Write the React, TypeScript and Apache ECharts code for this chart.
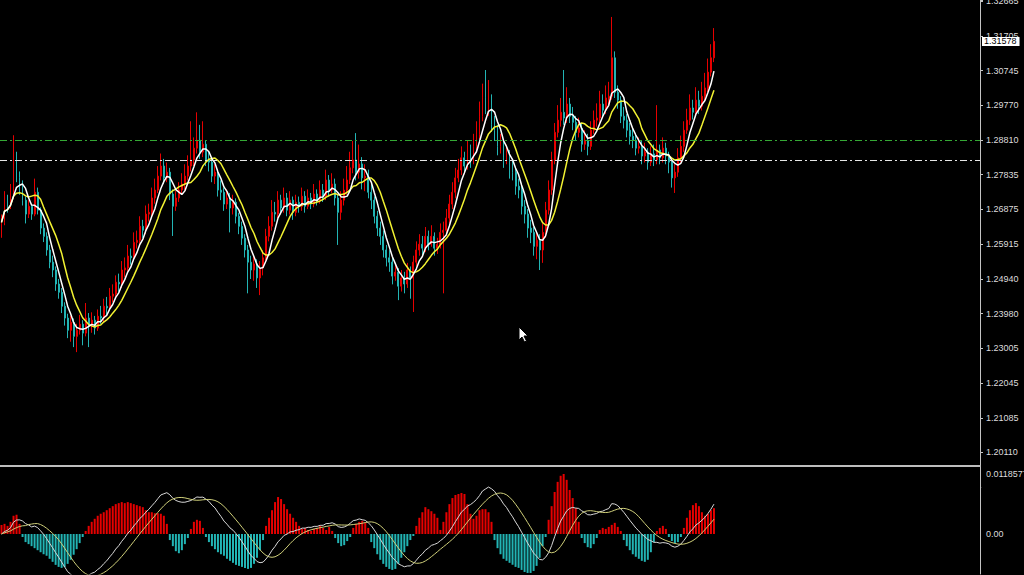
import React, { useEffect, useRef } from "react";
import * as echarts from "echarts";

// ---------- data ----------
const FIRST_OPEN = 1.264;

const CLOSES = [
  1.2653, 1.2715, 1.2698, 1.2737, 1.2827, 1.2777, 1.2743, 1.2715, 1.2676, 1.2698,
  1.2676, 1.2737, 1.2687, 1.2637, 1.2614, 1.2576, 1.2542, 1.252, 1.2481, 1.2458,
  1.2419, 1.2386, 1.2352, 1.2374, 1.2335, 1.2352, 1.2369, 1.2344, 1.2386, 1.2363,
  1.238, 1.2358, 1.2391, 1.2386, 1.2419, 1.2414, 1.2447, 1.2453, 1.2486, 1.2481,
  1.252, 1.2526, 1.2559, 1.2554, 1.2597, 1.2603, 1.2642, 1.2631, 1.2676, 1.2681,
  1.2721, 1.2743, 1.2782, 1.281, 1.2777, 1.2793, 1.2732, 1.2698, 1.2721, 1.2743,
  1.276, 1.2782, 1.281, 1.2827, 1.286, 1.2882, 1.2849, 1.2871, 1.2827, 1.2821,
  1.2782, 1.2793, 1.2743, 1.2737, 1.2704, 1.2721, 1.2693, 1.2709, 1.267, 1.2642,
  1.2609, 1.2576, 1.2542, 1.252, 1.2537, 1.2498, 1.2526, 1.2554, 1.2614, 1.2642,
  1.2681, 1.2676, 1.2715, 1.2693, 1.2721, 1.2687, 1.2715, 1.2681, 1.2709, 1.2698,
  1.2726, 1.2698, 1.2721, 1.2704, 1.2732, 1.2715, 1.2743, 1.2726, 1.2771, 1.2743,
  1.276, 1.2721, 1.2681, 1.2715, 1.2743, 1.2771, 1.2805, 1.2827, 1.2793, 1.2816,
  1.2777, 1.2782, 1.2737, 1.2715, 1.267, 1.2637, 1.2614, 1.2576, 1.2554, 1.2542,
  1.2503, 1.2514, 1.2475, 1.2498, 1.2481, 1.252, 1.2498, 1.2542, 1.2576, 1.2592,
  1.2581, 1.2614, 1.2592, 1.2614, 1.2581, 1.2592, 1.2625, 1.2631, 1.2665, 1.2704,
  1.2737, 1.2777, 1.2799, 1.2833, 1.281, 1.2849, 1.2827, 1.2865, 1.2899, 1.2949,
  1.3, 1.2972, 1.2994, 1.2927, 1.291, 1.2865, 1.2871, 1.2833, 1.2844, 1.2799,
  1.2793, 1.2754, 1.2743, 1.2698, 1.2676, 1.2637, 1.2625, 1.2586, 1.2603, 1.2576,
  1.2625, 1.2687, 1.2743, 1.2827, 1.2904, 1.2938, 1.296, 1.2944, 1.2983, 1.2949,
  1.2932, 1.2904, 1.2916, 1.2871, 1.2882, 1.2865, 1.291, 1.2938, 1.2944, 1.2983,
  1.2966, 1.3, 1.3005, 1.3112, 1.3016, 1.2994, 1.2949, 1.2938, 1.291, 1.2893,
  1.2882, 1.286, 1.2865, 1.2838, 1.2849, 1.2821, 1.2844, 1.2827, 1.2855, 1.2833,
  1.286, 1.2838, 1.2821, 1.2777, 1.2793, 1.2833, 1.2865, 1.291, 1.2938, 1.2972,
  1.296, 1.2994, 1.2977, 1.3005, 1.3028, 1.3072, 1.3112, 1.31578,
];

const HIGHS = [
  1.2675, 1.274, 1.273, 1.276, 1.2896, 1.285, 1.2795, 1.277, 1.2725, 1.2715,
  1.2705, 1.2775, 1.275, 1.2695, 1.265, 1.2625, 1.259, 1.256, 1.253, 1.2495,
  1.247, 1.243, 1.2398, 1.2392, 1.2385, 1.237, 1.2395, 1.238, 1.2428, 1.24,
  1.2402, 1.2392, 1.241, 1.242, 1.244, 1.2445, 1.247, 1.248, 1.2505, 1.251,
  1.2545, 1.2555, 1.259, 1.258, 1.2625, 1.263, 1.267, 1.266, 1.27, 1.2705,
  1.275, 1.2775, 1.281, 1.2845, 1.283, 1.282, 1.2805, 1.2745, 1.274, 1.2765,
  1.279, 1.2815, 1.284, 1.2935, 1.289, 1.296, 1.2925, 1.2935, 1.288, 1.285,
  1.283, 1.2815, 1.28, 1.277, 1.275, 1.2745, 1.2735, 1.273, 1.272, 1.268,
  1.2655, 1.262, 1.259, 1.256, 1.256, 1.255, 1.2545, 1.2575, 1.2635, 1.267,
  1.2715, 1.271, 1.274, 1.273, 1.275, 1.2735, 1.274, 1.2725, 1.273, 1.2725,
  1.275, 1.274, 1.2745, 1.2735, 1.276, 1.2745, 1.277, 1.276, 1.28, 1.2785,
  1.279, 1.2775, 1.273, 1.274, 1.2775, 1.281, 1.285, 1.288, 1.2902, 1.287,
  1.2835, 1.2815, 1.28, 1.276, 1.2725, 1.2685, 1.2655, 1.263, 1.259, 1.2575,
  1.2555, 1.254, 1.2525, 1.252, 1.2515, 1.254, 1.253, 1.256, 1.26, 1.262,
  1.2615, 1.264, 1.263, 1.2645, 1.2625, 1.261, 1.265, 1.2655, 1.269, 1.273,
  1.2765, 1.2805, 1.283, 1.2865, 1.285, 1.288, 1.287, 1.29, 1.2935, 1.299,
  1.304, 1.3078, 1.305, 1.301, 1.295, 1.2925, 1.29, 1.2885, 1.287, 1.2855,
  1.2825, 1.2805, 1.2775, 1.2755, 1.2715, 1.269, 1.266, 1.264, 1.2625, 1.262,
  1.265, 1.271, 1.277, 1.285, 1.293, 1.298, 1.3, 1.3078, 1.303, 1.3,
  1.2975, 1.295, 1.2945, 1.293, 1.291, 1.29, 1.2935, 1.2965, 1.2985, 1.302,
  1.301, 1.3035, 1.3045, 1.3226, 1.313, 1.3035, 1.3005, 1.2975, 1.2955, 1.293,
  1.2915, 1.29, 1.289, 1.288, 1.2875, 1.286, 1.2865, 1.287, 1.298, 1.287,
  1.289, 1.2875, 1.285, 1.283, 1.2815, 1.286, 1.2895, 1.2935, 1.297, 1.301,
  1.2995, 1.303, 1.302, 1.3045, 1.307, 1.311, 1.315, 1.3195,
];

const LOWS = [
  1.261, 1.2645, 1.268, 1.269, 1.2725, 1.2765, 1.273, 1.27, 1.265, 1.2665,
  1.266, 1.267, 1.2675, 1.262, 1.2598, 1.256, 1.2525, 1.25, 1.2462, 1.244,
  1.24, 1.2365, 1.233, 1.232, 1.2305, 1.2291, 1.234, 1.231, 1.2335, 1.2305,
  1.2345, 1.234, 1.235, 1.237, 1.2375, 1.2395, 1.2405, 1.243, 1.244, 1.246,
  1.247, 1.25, 1.2515, 1.2535, 1.2545, 1.258, 1.259, 1.261, 1.262, 1.2655,
  1.267, 1.2705, 1.2735, 1.277, 1.276, 1.2765, 1.2715, 1.2615, 1.2685, 1.271,
  1.273, 1.2745, 1.277, 1.2795, 1.281, 1.2845, 1.283, 1.2835, 1.281, 1.2795,
  1.2765, 1.276, 1.2725, 1.2715, 1.2685, 1.269, 1.2625, 1.2675, 1.265, 1.262,
  1.259, 1.2555, 1.2455, 1.2495, 1.249, 1.247, 1.245, 1.2505, 1.254, 1.26,
  1.263, 1.2655, 1.2665, 1.2675, 1.268, 1.267, 1.2675, 1.266, 1.267, 1.268,
  1.2685, 1.268, 1.269, 1.269, 1.2695, 1.27, 1.2705, 1.271, 1.2715, 1.2725,
  1.2735, 1.27, 1.259, 1.266, 1.27, 1.273, 1.276, 1.279, 1.277, 1.2775,
  1.2745, 1.274, 1.272, 1.269, 1.265, 1.2615, 1.259, 1.2555, 1.253, 1.2515,
  1.248, 1.249, 1.2436, 1.246, 1.2455, 1.247, 1.244, 1.2403, 1.253, 1.256,
  1.256, 1.257, 1.2575, 1.2585, 1.256, 1.2565, 1.258, 1.2455, 1.2615, 1.265,
  1.269, 1.272, 1.2765, 1.2785, 1.279, 1.28, 1.2805, 1.2815, 1.285, 1.2885,
  1.2935, 1.2955, 1.295, 1.2905, 1.288, 1.284, 1.2845, 1.2805, 1.2815, 1.2775,
  1.277, 1.273, 1.272, 1.2675, 1.265, 1.261, 1.2595, 1.256, 1.255, 1.252,
  1.254, 1.261, 1.2675, 1.273, 1.2815, 1.289, 1.292, 1.2925, 1.293, 1.293,
  1.291, 1.288, 1.289, 1.285, 1.2855, 1.284, 1.2855, 1.29, 1.292, 1.293,
  1.2945, 1.2955, 1.298, 1.2995, 1.3, 1.297, 1.293, 1.2915, 1.289, 1.287,
  1.286, 1.284, 1.2845, 1.2815, 1.282, 1.28, 1.281, 1.281, 1.2815, 1.2815,
  1.282, 1.2815, 1.279, 1.275, 1.2735, 1.278, 1.282, 1.285, 1.29, 1.2925,
  1.294, 1.295, 1.2955, 1.2965, 1.299, 1.3015, 1.306, 1.31,
];

// histogram of the lower (MACD) window
const MACD_HIST = [
  0.0018, 0.002, 0.0016, 0.0024, 0.0036, 0.0038, 0.002,
  -0.0006, -0.0016, -0.002, -0.0024, -0.0028, -0.0032, -0.0036, -0.004, -0.0043, -0.0049, -0.0055,
  -0.0061, -0.0065, -0.0067, -0.0065, -0.0059, -0.0051, -0.0041, -0.003, -0.0018, -0.0006,
  0.0006, 0.0016, 0.0024, 0.003, 0.0036, 0.004, 0.0043, 0.0047, 0.0051, 0.0055, 0.0059, 0.0061,
  0.0063, 0.0061, 0.0063, 0.0061, 0.0059, 0.0057, 0.0055, 0.0053, 0.0047, 0.0043, 0.0043, 0.0041,
  0.0041, 0.004, 0.0036, 0.002,
  -0.0012, -0.0024, -0.0034, -0.0038, -0.0032, -0.002, -0.0008,
  0.001, 0.0024, 0.0028, 0.0026, 0.0012,
  -0.0006, -0.0016, -0.0024, -0.003, -0.0036, -0.004, -0.0043, -0.0049, -0.0053, -0.0057, -0.0061,
  -0.0063, -0.0065, -0.0067, -0.0069, -0.0067, -0.0059, -0.0047, -0.0032, -0.0012,
  0.0016, 0.0032, 0.0047, 0.0063, 0.0073, 0.0069, 0.0059, 0.0049, 0.004, 0.0032, 0.0024, 0.0016,
  0.001, 0.0012, 0.0008, 0.0006, 0.001, 0.0012, 0.0016, 0.0012, 0.0008, 0.0014, 0.0006,
  -0.0008, -0.0018, -0.0024, -0.0022, -0.0014, -0.0006,
  0.0012, 0.002, 0.0024, 0.0026, 0.0022, 0.0012,
  -0.0016, -0.0028, -0.004, -0.0051, -0.0059, -0.0065, -0.0069, -0.0071, -0.0069, -0.0059, -0.0047,
  -0.0036, -0.0024, -0.0012, -0.0004,
  0.0016, 0.0032, 0.0043, 0.0053, 0.0049, 0.0045, 0.004, 0.0032, 0.0008,
  0.0024, 0.0043, 0.0059, 0.0071, 0.0077, 0.0079, 0.0081, 0.0079, 0.0059, 0.004, 0.003, 0.0036,
  0.0047, 0.0049, 0.0049, 0.0043, 0.0024,
  -0.0012, -0.0028, -0.004, -0.0049, -0.0053, -0.0057, -0.0061, -0.0065, -0.0067, -0.0071, -0.0075,
  -0.0077, -0.0077, -0.0073, -0.0063, -0.0047, -0.0024, -0.0006,
  0.0028, 0.0055, 0.0083, 0.0103, 0.0115, 0.01186, 0.0107, 0.0087, 0.0071, 0.0051, 0.0024,
  -0.0008, -0.0018, -0.0026, -0.0028, -0.002, -0.0008,
  0.0008, 0.0012, 0.001, 0.0014, 0.0018, 0.0022, 0.0014, 0.0006,
  -0.0012, -0.0024, -0.0032, -0.004, -0.0045, -0.0049, -0.0053, -0.0055, -0.0051, -0.0036, -0.0016,
  0.0006, 0.0012, 0.0016, 0.001,
  -0.0006, -0.0014, -0.0018, -0.0016, -0.0006,
  0.0012, 0.0032, 0.0047, 0.0057, 0.0061, 0.0055, 0.0043, 0.0036, 0.004, 0.0047, 0.0051,
];

const PRICE_TICK_LABELS = [
  "1.20110", "1.21085", "1.22045", "1.23005", "1.23980", "1.24940", "1.25915",
  "1.26875", "1.27835", "1.28810", "1.29770", "1.30745", "1.31705", "1.32665",
];
const PRICE_TICK_BASE = 1.2011012;
const PRICE_TICK_STEP = 0.0096863;
const PRICE_MAX = 1.32733;

const LAST_PRICE = 1.31578;
const LEVEL_GREEN = 1.2881;
const LEVEL_WHITE = 1.2826;

const MACD_TOP = 0.0118577;
const MACD_MAX = 0.01304;

const FAST_MA = 5;
const SLOW_MA = 10;
const MACD_FAST = 12;
const MACD_SLOW = 26;
const MACD_SIGNAL = 9;
const TOTAL_SLOTS = 326;

// ---------- styling ----------
const RED = "#e60000";
const CYAN = "#22b4b4";
const AXIS_COLOR = "#c4c4c4";
const LABEL_COLOR = "#dcdcdc";
const FONT = "Liberation Sans";

function sma(values: number[], period: number): number[] {
  return values.map((_, i) => {
    const s = Math.max(0, i - period + 1);
    let sum = 0;
    for (let j = s; j <= i; j++) sum += values[j];
    return sum / (i - s + 1);
  });
}

function ema(values: number[], period: number): number[] {
  const k = 2 / (period + 1);
  const out: number[] = [];
  values.forEach((v, i) => {
    out.push(i === 0 ? v : v * k + out[i - 1] * (1 - k));
  });
  return out;
}

export default function App() {
  const ref = useRef<HTMLDivElement>(null);

  useEffect(() => {
    if (!ref.current) return;
    const chart = echarts.init(ref.current, null, { renderer: "svg" });

    const opens = CLOSES.map((_, i) => (i === 0 ? FIRST_OPEN : CLOSES[i - 1]));
    const candles = CLOSES.map((c, i) => [opens[i], c, LOWS[i], HIGHS[i]]);
    const maFast = sma(CLOSES, FAST_MA);
    const maSlow = sma(CLOSES, SLOW_MA);
    const e1 = ema(CLOSES, MACD_FAST);
    const e2 = ema(CLOSES, MACD_SLOW);
    const macd = e1.map((v, i) => v - e2[i]);
    const signal = sma(macd, MACD_SIGNAL);

    const slots = Array.from({ length: TOTAL_SLOTS }, (_, i) => String(i));
    const priceMin = PRICE_TICK_BASE - PRICE_TICK_STEP;
    const pxPerPrice = 466 / 0.13;
    const mainHeight = (PRICE_MAX - priceMin) * pxPerPrice;

    // lower window: 0 at y=534, 0.0001976 per px, ticks every MACD_TOP/3 from min
    const macdPx = 0.0001976;
    const macdStep = MACD_TOP / 3;
    const macdMin = -2 * macdStep;
    const macdHeight = (MACD_MAX - macdMin) / macdPx;

    const dashDot = [7, 3, 2, 3];

    const option: any = {
      animation: false,
      backgroundColor: "#000",
      grid: [
        { left: 0, right: 44, top: 0, height: mainHeight, containLabel: false, outerBoundsMode: "none" },
        { left: 0, right: 44, top: 468, height: macdHeight, containLabel: false, outerBoundsMode: "none" },
      ],
      xAxis: [0, 1].map((g) => ({
        type: "category",
        gridIndex: g,
        data: slots,
        boundaryGap: true,
        axisLine: { show: false },
        axisTick: { show: false },
        axisLabel: { show: false },
        splitLine: { show: false },
      })),
      yAxis: [
        {
          type: "value",
          gridIndex: 0,
          position: "right",
          min: priceMin,
          max: PRICE_MAX,
          interval: PRICE_TICK_STEP,
          axisLine: { show: true, lineStyle: { color: AXIS_COLOR, width: 1 } },
          axisTick: { show: true, length: 3, lineStyle: { color: AXIS_COLOR } },
          splitLine: { show: false },
          axisLabel: {
            color: LABEL_COLOR,
            fontSize: 9,
            fontFamily: FONT,
            margin: 6,
            showMinLabel: true,
            showMaxLabel: true,
            formatter: (v: number) => {
              const k = Math.round((v - PRICE_TICK_BASE) / PRICE_TICK_STEP);
              if (Math.abs(v - (PRICE_TICK_BASE + k * PRICE_TICK_STEP)) > PRICE_TICK_STEP * 0.02) return "";
              return PRICE_TICK_LABELS[k] ?? "";
            },
          },
        },
        {
          type: "value",
          gridIndex: 1,
          position: "right",
          min: macdMin,
          max: MACD_MAX,
          interval: macdStep,
          axisLine: { show: true, lineStyle: { color: AXIS_COLOR, width: 1 } },
          axisTick: { show: false },
          splitLine: { show: false },
          axisLabel: {
            color: LABEL_COLOR,
            fontSize: 9,
            fontFamily: FONT,
            margin: 6,
            formatter: (v: number) => {
              if (Math.abs(v) < 1e-9) return "0.00";
              if (Math.abs(v - MACD_TOP) < 1e-8) return "0.0118577";
              return "";
            },
          },
        },
        {
          // current price box on the price scale
          type: "value",
          gridIndex: 0,
          position: "right",
          z: 10,
          min: priceMin,
          max: PRICE_MAX,
          interval: LAST_PRICE - priceMin,
          axisLine: { show: false },
          axisTick: { show: false },
          splitLine: { show: false },
          axisLabel: {
            margin: 2,
            formatter: (v: number) => (Math.abs(v - LAST_PRICE) < 1e-6 ? "{box|1.31578}" : ""),
            rich: {
              box: {
                color: "#000",
                backgroundColor: "#fff",
                fontSize: 9,
                fontFamily: FONT,
                lineHeight: 9,
                padding: [0, 3, 0, 2],
              },
            },
          },
        },
      ],
      series: [
        {
          type: "candlestick",
          xAxisIndex: 0,
          yAxisIndex: 0,
          data: candles,
          barWidth: 1.4,
          itemStyle: {
            color: RED,
            color0: CYAN,
            borderColor: RED,
            borderColor0: CYAN,
            borderWidth: 1,
          },
          markLine: {
            silent: true,
            symbol: "none",
            animation: false,
            precision: 5,
            label: { show: false },
            data: [
              { yAxis: LEVEL_GREEN, lineStyle: { color: "#35a835", width: 1, type: dashDot } },
              { yAxis: LEVEL_WHITE, lineStyle: { color: "#e6e6e6", width: 1, type: dashDot } },
            ],
          },
        },
        {
          type: "line",
          xAxisIndex: 0,
          yAxisIndex: 0,
          data: maSlow,
          showSymbol: false,
          lineStyle: { color: "#f2f232", width: 1.5 },
        },
        {
          type: "line",
          xAxisIndex: 0,
          yAxisIndex: 0,
          data: maFast,
          showSymbol: false,
          lineStyle: { color: "#ffffff", width: 1.5 },
        },
        {
          type: "bar",
          xAxisIndex: 1,
          yAxisIndex: 1,
          data: MACD_HIST,
          barWidth: 2,
          itemStyle: {
            color: (p: any) => (p.value >= 0 ? RED : CYAN),
          },
        },
        {
          type: "line",
          xAxisIndex: 1,
          yAxisIndex: 1,
          data: macd,
          showSymbol: false,
          lineStyle: { color: "#d8d8d8", width: 1 },
        },
        {
          type: "line",
          xAxisIndex: 1,
          yAxisIndex: 1,
          data: signal,
          showSymbol: false,
          lineStyle: { color: "#cfcf7a", width: 1 },
        },
      ],
      graphic: [
        {
          type: "rect",
          shape: { x: 0, y: 465, width: 981, height: 2 },
          style: { fill: "#bdbdbd" },
          z: 10,
        },
        {
          // hides the price scale's hidden lowest tick inside the lower window
          type: "rect",
          shape: { x: 981.2, y: 470, width: 5, height: 25 },
          style: { fill: "#000" },
          z: 10,
        },
        {
          type: "polygon",
          shape: {
            points: [
              [519, 327], [519, 340], [522, 337], [524.5, 342], [526.5, 341], [524, 336], [528, 336],
            ],
          },
          style: { fill: "#fff", stroke: "#000", lineWidth: 1 },
          z: 20,
        },
      ],
    };

    chart.setOption(option);
    return () => chart.dispose();
  }, []);

  return (
    <div
      ref={ref}
      style={{ position: "fixed", left: 0, top: 0, width: 1024, height: 575, background: "#000" }}
    />
  );
}
